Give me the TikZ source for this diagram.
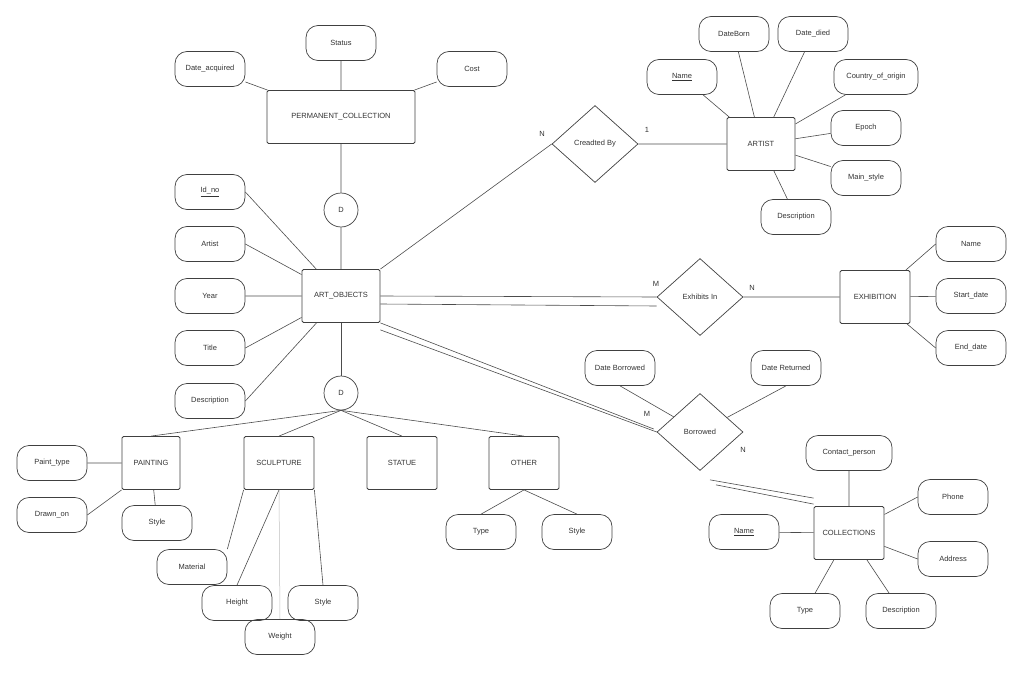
\documentclass[tikz,border=0pt]{standalone}
\usepackage{fontspec}
\setmainfont{Liberation Sans}
\usetikzlibrary{shapes.geometric}
\begin{document}
\begin{tikzpicture}[x=1pt,y=-1pt,
 every node/.style={font=\fontsize{7.5}{9}\selectfont,text=black!80},
 ent/.style={draw=black!75,line width=0.8pt,rounded corners=1.5pt,minimum height=53pt,inner sep=0pt},
 att/.style={draw=black!75,line width=0.7pt,rounded corners=12pt,minimum width=70pt,minimum height=35pt,inner sep=0pt},
 rel/.style={draw=black!75,line width=0.7pt,diamond,aspect=1.12,minimum width=86pt,minimum height=77pt,inner sep=0pt},
 dis/.style={draw=black!75,line width=0.7pt,circle,minimum size=34pt,inner sep=0pt},
 ln/.style={draw=black!70,line width=0.6pt},
 lbl/.style={font=\fontsize{7.5}{9}\selectfont}]
\useasboundingbox (0,0) rectangle (1024,674);
% entities
\node[ent,minimum width=148pt] (pc) at (341,117) {PERMANENT\_COLLECTION};
\node[ent,minimum width=78pt] (ao) at (341,296) {ART\_OBJECTS};
\node[ent,minimum width=68pt] (ar) at (761,144) {ARTIST};
\node[ent,minimum width=70pt] (ex) at (875,297) {EXHIBITION};
\node[ent,minimum width=70pt] (co) at (849,533) {COLLECTIONS};
\node[ent,minimum width=58pt] (pa) at (151,463) {PAINTING};
\node[ent,minimum width=70pt] (sc) at (279,463) {SCULPTURE};
\node[ent,minimum width=70pt] (st) at (402,463) {STATUE};
\node[ent,minimum width=70pt] (ot) at (524,463) {OTHER};
% relationships
\node[rel] (cb) at (595,144) {Creadted By};
\node[rel] (ei) at (700,297) {Exhibits In};
\node[rel] (bo) at (700,432) {Borrowed};
\node[dis] (d1) at (341,210) {D};
\node[dis] (d2) at (341,393) {D};
% attributes
\node[att] (a1) at (341,43) {Status};
\node[att] (a2) at (210,69) {Date\_acquired};
\node[att] (a3) at (472,69) {Cost};
\node[att] (b1) at (210,192) {\underline{Id\_no}};
\node[att] (b2) at (210,244) {Artist};
\node[att] (b3) at (210,296) {Year};
\node[att] (b4) at (210,348) {Title};
\node[att] (b5) at (210,401) {Description};
\node[att] (c1) at (734,34) {DateBorn};
\node[att] (c2) at (813,34) {Date\_died};
\node[att] (c3) at (682,77) {\underline{Name}};
\node[att,minimum width=84pt] (c4) at (876,77) {Country\_of\_origin};
\node[att] (c5) at (866,128) {Epoch};
\node[att] (c6) at (866,178) {Main\_style};
\node[att] (c7) at (796,217) {Description};
\node[att] (e1) at (971,244) {Name};
\node[att] (e2) at (971,296) {Start\_date};
\node[att] (e3) at (971,348) {End\_date};
\node[att] (f1) at (620,368) {Date Borrowed};
\node[att] (f2) at (786,368) {Date Returned};
\node[att,minimum width=86pt] (g1) at (849,453) {Contact\_person};
\node[att] (g2) at (953,497) {Phone};
\node[att] (g3) at (953,559) {Address};
\node[att] (g4) at (744,532) {\underline{Name}};
\node[att] (g5) at (805,611) {Type};
\node[att] (g6) at (901,611) {Description};
\node[att] (h1) at (52,463) {Paint\_type};
\node[att] (h2) at (52,515) {Drawn\_on};
\node[att] (h3) at (157,523) {Style};
\node[att] (h4) at (192,567) {Material};
\node[att] (h5) at (237,603) {Height};
\node[att] (h6) at (323,603) {Style};
\node[att] (h7) at (280,637) {Weight};
\node[att] (h8) at (481,532) {Type};
\node[att] (h9) at (577,532) {Style};
% connectors
\path[ln] (a1)--(pc) (a2)--(pc) (a3)--(pc) (pc)--(d1) (d1)--(ao);
\path[ln] (b1.east)--(ao) (b2.east)--(ao) (b3)--(ao) (b4.east)--(ao) (b5.east)--(ao);
\path[ln] (c1)--(ar) (c2)--(ar) (c3)--(ar) (c4)--(ar) (c5)--(ar) (c6)--(ar) (c7)--(ar);
\path[ln] (e1.west)--(ex) (e2)--(ex) (e3.west)--(ex);
\path[ln] (f1.south)--(bo) (f2.south)--(bo);
\path[ln] (g1)--(co) (g2.west)--(co) (g3.west)--(co) (g4)--(co) (g5)--(co) (g6)--(co);
\path[ln] (h1)--(pa) (h2.east)--(pa.south west) (h3)--(pa);
\path[ln] (h4.north east)--(sc.south west) (h5.north)--(sc.south) (h6.north)--(sc.south east);
\draw[black!25,line width=0.5pt] (sc.south)--(h7.north);
\path[ln] (h8.north)--(ot.south) (h9.north)--(ot.south);
\path[ln] (ao)--(d2);
\foreach \n in {pa,sc,st,ot} \path[ln] (d2.south)--(\n.north);
\path[ln] (ao.north east)--(cb.west) (cb)--(ar);
\path[ln] ([yshift=-8pt]ao.east)--([yshift=-9pt]ei.west);
\path[ln] (ao.east)--(ei.west) (ei)--(ex);
\path[ln] ([yshift=-7pt]ao.south east)--(bo.west);
\path[ln] (ao.south east)--([xshift=-3pt,yshift=3pt]bo.west);
\path[ln] ([xshift=16pt,yshift=-14pt]bo.south)--([yshift=2pt]co.north west);
\path[ln] ([xshift=10pt,yshift=-9pt]bo.south)--([yshift=8pt]co.north west);
% labels
\node[lbl] (l1) at (542,134) {N};
\node[lbl] (l2) at (647,130) {1};
\node[lbl] (l3) at (656,284) {M};
\node[lbl] (l4) at (752,288) {N};
\node[lbl] (l5) at (647,414) {M};
\node[lbl] (l6) at (743,450) {N};
\end{tikzpicture}
\end{document}
